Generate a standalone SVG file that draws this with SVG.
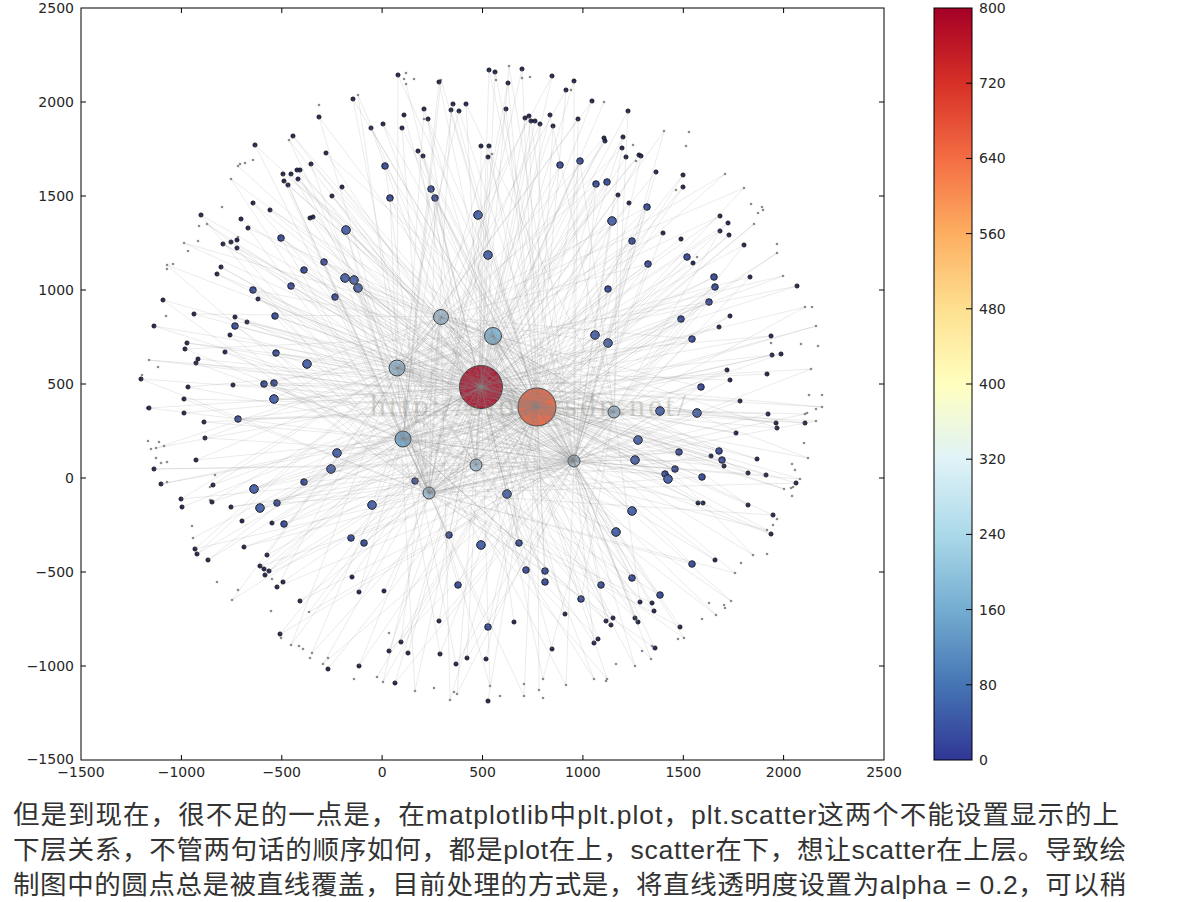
<svg xmlns="http://www.w3.org/2000/svg" xmlns:xlink="http://www.w3.org/1999/xlink" width="1181" height="902" viewBox="0 0 1181 902">
<style>
.tk{font-family:"DejaVu Sans",sans-serif;font-size:14px;fill:#262626}
.xl{text-anchor:middle}
.yl{text-anchor:end}
.cap{font-family:"Liberation Sans","Noto Sans CJK SC",sans-serif;font-size:26.5px;fill:#333}
.ed path{fill:none;stroke:#888;stroke-opacity:0.17;stroke-width:1}
.hub{stroke:#333;stroke-width:1}
.tm{stroke:#000;stroke-width:1}
</style>
<defs>
<linearGradient id="cmap" x1="0" y1="1" x2="0" y2="0">
<stop offset="0" stop-color="#313695"/><stop offset="0.1" stop-color="#4575b4"/><stop offset="0.2" stop-color="#74add1"/><stop offset="0.3" stop-color="#abd9e9"/><stop offset="0.4" stop-color="#e0f3f8"/><stop offset="0.5" stop-color="#ffffbf"/><stop offset="0.6" stop-color="#fee090"/><stop offset="0.7" stop-color="#fdae61"/><stop offset="0.8" stop-color="#f46d43"/><stop offset="0.9" stop-color="#d73027"/><stop offset="1" stop-color="#a50026"/>
</linearGradient>
<circle id="t" r="1.3" fill="#666" fill-opacity="0.75"/>
<circle id="s" r="2.1" fill="#222858" stroke="#111" stroke-width="0.8"/>
<circle id="m" r="3.3" fill="#3d4f9c" stroke="#1a1a1a" stroke-width="0.9"/>
<circle id="b" r="4.3" fill="#4a64ad" stroke="#1a1a1a" stroke-width="1"/>
</defs>
<rect width="1181" height="902" fill="#fff"/>
<text x="370" y="416" font-family="Liberation Serif,serif" font-size="32" letter-spacing="3" fill="#c9c9c0" fill-opacity="0.7">http://blog.csdn.net/</text>
<g id="nodes">
<g id="tiny">
<use href="#t" x="358" y="95"/><use href="#t" x="319" y="105"/><use href="#t" x="289" y="140"/><use href="#t" x="238" y="166"/><use href="#t" x="240" y="164"/><use href="#t" x="245" y="163"/><use href="#t" x="253" y="160"/><use href="#t" x="231" y="179"/><use href="#t" x="222" y="207"/><use href="#t" x="207" y="224"/><use href="#t" x="199" y="226"/><use href="#t" x="184" y="243"/><use href="#t" x="198" y="241"/><use href="#t" x="188" y="251"/><use href="#t" x="238" y="237"/><use href="#t" x="167" y="265"/><use href="#t" x="167" y="269"/><use href="#t" x="173" y="264"/><use href="#t" x="166" y="316"/><use href="#t" x="149" y="360"/><use href="#t" x="158" y="367"/><use href="#t" x="142" y="375"/>
<use href="#t" x="147" y="408"/><use href="#t" x="148" y="441"/><use href="#t" x="159" y="442"/><use href="#t" x="151" y="449"/><use href="#t" x="156" y="448"/><use href="#t" x="164" y="446"/><use href="#t" x="156" y="458"/><use href="#t" x="161" y="463"/><use href="#t" x="167" y="462"/><use href="#t" x="215" y="475"/><use href="#t" x="210" y="487"/><use href="#t" x="167" y="482"/><use href="#t" x="210" y="500"/><use href="#t" x="192" y="526"/><use href="#t" x="193" y="538"/><use href="#t" x="272" y="579"/><use href="#t" x="217" y="582"/><use href="#t" x="238" y="590"/><use href="#t" x="232" y="600"/><use href="#t" x="309" y="612"/><use href="#t" x="271" y="611"/><use href="#t" x="281" y="638"/><use href="#t" x="291" y="645"/><use href="#t" x="299" y="646"/><use href="#t" x="303" y="649"/><use href="#t" x="312" y="653"/><use href="#t" x="310" y="658"/><use href="#t" x="323" y="664"/><use href="#t" x="328" y="658"/><use href="#t" x="354" y="679"/><use href="#t" x="377" y="677"/>
<use href="#t" x="406" y="73"/><use href="#t" x="404" y="79"/><use href="#t" x="406" y="84"/><use href="#t" x="414" y="79"/><use href="#t" x="441" y="80"/><use href="#t" x="509" y="66"/><use href="#t" x="496" y="80"/><use href="#t" x="522" y="78"/><use href="#t" x="530" y="77"/><use href="#t" x="571" y="90"/><use href="#t" x="604" y="102"/><use href="#t" x="424" y="119"/><use href="#t" x="492" y="154"/>
<use href="#t" x="633" y="145"/><use href="#t" x="636" y="161"/><use href="#t" x="664" y="131"/><use href="#t" x="689" y="132"/><use href="#t" x="686" y="146"/><use href="#t" x="676" y="190"/><use href="#t" x="725" y="174"/><use href="#t" x="744" y="188"/><use href="#t" x="751" y="204"/><use href="#t" x="762" y="207"/><use href="#t" x="763" y="210"/><use href="#t" x="758" y="213"/><use href="#t" x="754" y="224"/><use href="#t" x="777" y="244"/><use href="#t" x="777" y="253"/><use href="#t" x="697" y="257"/><use href="#t" x="783" y="276"/><use href="#t" x="805" y="307"/><use href="#t" x="812" y="307"/><use href="#t" x="816" y="326"/><use href="#t" x="771" y="343"/><use href="#t" x="801" y="344"/><use href="#t" x="818" y="346"/><use href="#t" x="811" y="369"/>
<use href="#t" x="809" y="395"/><use href="#t" x="822" y="395"/><use href="#t" x="805" y="414"/><use href="#t" x="807" y="413"/><use href="#t" x="816" y="409"/><use href="#t" x="822" y="407"/><use href="#t" x="816" y="421"/><use href="#t" x="804" y="443"/><use href="#t" x="808" y="458"/><use href="#t" x="792" y="464"/><use href="#t" x="795" y="470"/><use href="#t" x="800" y="479"/><use href="#t" x="793" y="487"/><use href="#t" x="791" y="488"/><use href="#t" x="784" y="489"/><use href="#t" x="792" y="496"/><use href="#t" x="777" y="519"/><use href="#t" x="773" y="525"/><use href="#t" x="767" y="530"/><use href="#t" x="753" y="555"/><use href="#t" x="767" y="554"/><use href="#t" x="741" y="563"/><use href="#t" x="735" y="573"/><use href="#t" x="709" y="603"/><use href="#t" x="724" y="605"/><use href="#t" x="725" y="608"/><use href="#t" x="731" y="601"/><use href="#t" x="702" y="619"/><use href="#t" x="716" y="615"/><use href="#t" x="678" y="639"/><use href="#t" x="684" y="638"/><use href="#t" x="652" y="646"/><use href="#t" x="642" y="651"/><use href="#t" x="651" y="659"/><use href="#t" x="616" y="664"/><use href="#t" x="635" y="666"/>
<use href="#t" x="389" y="633"/><use href="#t" x="383" y="682"/><use href="#t" x="415" y="691"/><use href="#t" x="434" y="688"/><use href="#t" x="450" y="700"/><use href="#t" x="454" y="692"/><use href="#t" x="457" y="694"/><use href="#t" x="490" y="686"/><use href="#t" x="500" y="696"/><use href="#t" x="524" y="684"/><use href="#t" x="524" y="696"/><use href="#t" x="543" y="679"/><use href="#t" x="543" y="698"/><use href="#t" x="539" y="690"/><use href="#t" x="566" y="685"/><use href="#t" x="594" y="679"/><use href="#t" x="607" y="679"/><use href="#t" x="606" y="681"/>
</g>
<g id="small">
<use href="#s" x="353" y="99"/><use href="#s" x="319" y="117"/><use href="#s" x="371" y="128"/><use href="#s" x="293" y="136"/><use href="#s" x="255" y="145"/><use href="#s" x="326" y="153"/><use href="#s" x="311" y="164"/><use href="#s" x="297" y="170"/><use href="#s" x="300" y="170"/><use href="#s" x="283" y="174"/><use href="#s" x="291" y="174"/><use href="#s" x="298" y="179"/><use href="#s" x="284" y="181"/><use href="#s" x="288" y="185"/><use href="#s" x="342" y="187"/><use href="#s" x="332" y="196"/><use href="#s" x="253" y="203"/><use href="#s" x="270" y="210"/><use href="#s" x="201" y="215"/><use href="#s" x="241" y="219"/><use href="#s" x="248" y="228"/><use href="#s" x="310" y="218"/><use href="#s" x="313" y="217"/><use href="#s" x="223" y="244"/><use href="#s" x="231" y="242"/><use href="#s" x="237" y="240"/><use href="#s" x="237" y="248"/><use href="#s" x="221" y="267"/><use href="#s" x="217" y="274"/><use href="#s" x="258" y="299"/><use href="#s" x="163" y="300"/><use href="#s" x="194" y="314"/><use href="#s" x="235" y="317"/><use href="#s" x="247" y="322"/><use href="#s" x="230" y="335"/><use href="#s" x="154" y="326"/><use href="#s" x="187" y="343"/><use href="#s" x="185" y="349"/><use href="#s" x="225" y="352"/><use href="#s" x="198" y="359"/><use href="#s" x="196" y="363"/><use href="#s" x="141" y="379"/><use href="#s" x="188" y="387"/><use href="#s" x="233" y="385"/>
<use href="#s" x="184" y="399"/><use href="#s" x="149" y="408"/><use href="#s" x="184" y="413"/><use href="#s" x="204" y="422"/><use href="#s" x="205" y="438"/><use href="#s" x="154" y="469"/><use href="#s" x="196" y="460"/><use href="#s" x="213" y="485"/><use href="#s" x="161" y="484"/><use href="#s" x="181" y="499"/><use href="#s" x="182" y="507"/><use href="#s" x="212" y="502"/><use href="#s" x="231" y="507"/><use href="#s" x="242" y="521"/><use href="#s" x="272" y="523"/><use href="#s" x="195" y="549"/><use href="#s" x="197" y="554"/><use href="#s" x="208" y="560"/><use href="#s" x="244" y="547"/><use href="#s" x="267" y="555"/><use href="#s" x="260" y="566"/><use href="#s" x="264" y="569"/><use href="#s" x="269" y="571"/><use href="#s" x="265" y="575"/><use href="#s" x="283" y="582"/><use href="#s" x="277" y="587"/><use href="#s" x="352" y="577"/><use href="#s" x="359" y="592"/><use href="#s" x="300" y="601"/><use href="#s" x="280" y="634"/><use href="#s" x="328" y="669"/><use href="#s" x="359" y="666"/>
<use href="#s" x="398" y="75"/><use href="#s" x="439" y="82"/><use href="#s" x="489" y="70"/><use href="#s" x="495" y="72"/><use href="#s" x="522" y="69"/><use href="#s" x="508" y="83"/><use href="#s" x="552" y="76"/><use href="#s" x="566" y="90"/><use href="#s" x="574" y="81"/><use href="#s" x="592" y="101"/><use href="#s" x="453" y="104"/><use href="#s" x="466" y="104"/><use href="#s" x="451" y="110"/><use href="#s" x="459" y="111"/><use href="#s" x="404" y="115"/><use href="#s" x="424" y="109"/><use href="#s" x="428" y="119"/><use href="#s" x="383" y="124"/><use href="#s" x="402" y="128"/><use href="#s" x="506" y="109"/><use href="#s" x="525" y="118"/><use href="#s" x="529" y="116"/><use href="#s" x="531" y="121"/><use href="#s" x="535" y="121"/><use href="#s" x="540" y="124"/><use href="#s" x="550" y="115"/><use href="#s" x="553" y="126"/><use href="#s" x="578" y="119"/><use href="#s" x="604" y="138"/><use href="#s" x="605" y="141"/><use href="#s" x="418" y="151"/><use href="#s" x="423" y="156"/><use href="#s" x="481" y="146"/><use href="#s" x="489" y="146"/><use href="#s" x="488" y="157"/><use href="#s" x="618" y="195"/>
<use href="#s" x="628" y="111"/><use href="#s" x="623" y="137"/><use href="#s" x="622" y="148"/><use href="#s" x="626" y="157"/><use href="#s" x="639" y="155"/><use href="#s" x="641" y="156"/><use href="#s" x="656" y="172"/><use href="#s" x="683" y="175"/><use href="#s" x="683" y="187"/><use href="#s" x="629" y="203"/><use href="#s" x="720" y="216"/><use href="#s" x="728" y="223"/><use href="#s" x="720" y="231"/><use href="#s" x="729" y="235"/><use href="#s" x="663" y="233"/><use href="#s" x="681" y="239"/><use href="#s" x="744" y="245"/><use href="#s" x="693" y="263"/><use href="#s" x="750" y="277"/><use href="#s" x="797" y="286"/><use href="#s" x="730" y="316"/><use href="#s" x="719" y="327"/><use href="#s" x="771" y="336"/><use href="#s" x="772" y="355"/><use href="#s" x="781" y="354"/><use href="#s" x="727" y="370"/><use href="#s" x="730" y="380"/><use href="#s" x="767" y="374"/>
<use href="#s" x="740" y="401"/><use href="#s" x="768" y="414"/><use href="#s" x="805" y="423"/><use href="#s" x="776" y="423"/><use href="#s" x="777" y="428"/><use href="#s" x="736" y="433"/><use href="#s" x="711" y="456"/><use href="#s" x="724" y="466"/><use href="#s" x="757" y="459"/><use href="#s" x="796" y="483"/><use href="#s" x="748" y="473"/><use href="#s" x="766" y="475"/><use href="#s" x="698" y="503"/><use href="#s" x="703" y="503"/><use href="#s" x="748" y="505"/><use href="#s" x="773" y="515"/><use href="#s" x="771" y="534"/><use href="#s" x="715" y="560"/><use href="#s" x="640" y="602"/><use href="#s" x="652" y="603"/><use href="#s" x="654" y="611"/><use href="#s" x="613" y="618"/><use href="#s" x="611" y="625"/><use href="#s" x="635" y="618"/><use href="#s" x="638" y="622"/><use href="#s" x="680" y="627"/><use href="#s" x="655" y="648"/>
<use href="#s" x="384" y="591"/><use href="#s" x="565" y="614"/><use href="#s" x="606" y="621"/><use href="#s" x="439" y="621"/><use href="#s" x="514" y="622"/><use href="#s" x="401" y="642"/><use href="#s" x="389" y="651"/><use href="#s" x="408" y="653"/><use href="#s" x="440" y="654"/><use href="#s" x="467" y="658"/><use href="#s" x="486" y="659"/><use href="#s" x="456" y="664"/><use href="#s" x="552" y="649"/><use href="#s" x="598" y="639"/><use href="#s" x="594" y="643"/><use href="#s" x="395" y="683"/><use href="#s" x="488" y="701"/>
</g>
<g id="medium">
<use href="#m" x="281" y="238"/><use href="#m" x="324" y="262"/><use href="#m" x="304" y="270"/><use href="#m" x="291" y="286"/><use href="#m" x="335" y="297"/><use href="#m" x="253" y="290"/><use href="#m" x="275" y="316"/><use href="#m" x="235" y="326"/><use href="#m" x="276" y="353"/><use href="#m" x="264" y="384"/><use href="#m" x="274" y="383"/>
<use href="#m" x="238" y="419"/><use href="#m" x="304" y="482"/><use href="#m" x="277" y="503"/><use href="#m" x="284" y="524"/><use href="#m" x="351" y="538"/><use href="#m" x="364" y="543"/>
<use href="#m" x="385" y="166"/><use href="#m" x="560" y="165"/><use href="#m" x="580" y="161"/><use href="#m" x="390" y="198"/><use href="#m" x="431" y="189"/><use href="#m" x="435" y="198"/><use href="#m" x="596" y="184"/><use href="#m" x="607" y="182"/><use href="#m" x="608" y="289"/>
<use href="#m" x="647" y="207"/><use href="#m" x="632" y="241"/><use href="#m" x="687" y="257"/><use href="#m" x="648" y="264"/><use href="#m" x="714" y="277"/><use href="#m" x="715" y="287"/><use href="#m" x="709" y="302"/><use href="#m" x="681" y="319"/><use href="#m" x="692" y="339"/><use href="#m" x="701" y="387"/>
<use href="#m" x="679" y="452"/><use href="#m" x="719" y="451"/><use href="#m" x="722" y="460"/><use href="#m" x="675" y="469"/><use href="#m" x="665" y="474"/><use href="#m" x="702" y="477"/><use href="#m" x="692" y="564"/><use href="#m" x="632" y="578"/><use href="#m" x="660" y="595"/>
<use href="#m" x="415" y="481"/><use href="#m" x="449" y="535"/><use href="#m" x="519" y="543"/><use href="#m" x="526" y="570"/><use href="#m" x="545" y="571"/><use href="#m" x="545" y="582"/><use href="#m" x="601" y="585"/><use href="#m" x="581" y="599"/><use href="#m" x="458" y="585"/><use href="#m" x="488" y="627"/>
</g>
<g id="big">
<use href="#b" x="346" y="230"/><use href="#b" x="345" y="278"/><use href="#b" x="354" y="280"/><use href="#b" x="358" y="288"/><use href="#b" x="307" y="364"/>
<use href="#b" x="274" y="399"/><use href="#b" x="337" y="453"/><use href="#b" x="331" y="469"/><use href="#b" x="254" y="489"/><use href="#b" x="260" y="508"/><use href="#b" x="372" y="505"/>
<use href="#b" x="478" y="215"/><use href="#b" x="612" y="221"/><use href="#b" x="488" y="255"/><use href="#b" x="595" y="335"/><use href="#b" x="608" y="343"/>
<use href="#b" x="660" y="411"/><use href="#b" x="697" y="413"/><use href="#b" x="638" y="440"/><use href="#b" x="635" y="460"/><use href="#b" x="668" y="479"/><use href="#b" x="632" y="511"/><use href="#b" x="616" y="532"/>
<use href="#b" x="507" y="494"/><use href="#b" x="481" y="545"/>
</g>
<g id="hub-c"><circle class="hub" cx="441" cy="317" r="7.5" fill="#a9c4da"/></g>
<g id="hub-d"><circle class="hub" cx="493" cy="336" r="8.5" fill="#8dbfe0"/></g>
<g id="hub-e"><circle class="hub" cx="397" cy="368" r="8" fill="#9dc4de"/></g>
<g id="hub-f"><circle class="hub" cx="403" cy="439" r="8" fill="#7db2d9"/></g>
<g id="hub-g"><circle class="hub" cx="476" cy="465" r="6" fill="#a9c5dc"/></g>
<g id="hub-h"><circle class="hub" cx="429" cy="493" r="6" fill="#a9c5dc"/></g>
<g id="hub-i"><circle class="hub" cx="574" cy="461" r="6" fill="#aac6dc"/></g>
<g id="hub-j"><circle class="hub" cx="614" cy="412" r="6" fill="#a3c1da"/></g>
<g id="hub-a"><circle class="hub" cx="481" cy="387" r="21.5" fill="#b5112e"/></g>
<g id="hub-b"><circle class="hub" cx="537" cy="407" r="19" fill="#f26c4a"/></g>
</g>
<g id="edges" class="ed">
<path d="M481 387L358 95M481 387L289 140M481 387L300 170M481 387L238 166M481 387L253 203M481 387L241 219M481 387L281 238M481 387L231 242M481 387L304 270M481 387L291 286M481 387L217 274M481 387L275 316M481 387L235 326M481 387L187 343M481 387L198 359M481 387L233 385M481 387L274 399M481 387L184 413M481 387L156 448M481 387L331 469M481 387L213 485M481 387L182 507M481 387L277 503M481 387L242 521M481 387L197 554M481 387L351 538M481 387L264 569M481 387L352 577M481 387L193 538M481 387L291 645M481 387L406 84M481 387L552 76M481 387L592 101M481 387L404 115M481 387L525 118M481 387L535 121M481 387L604 138M481 387L481 146M481 387L560 165M481 387L390 198M481 387L478 215M481 387L607 182M481 387L488 255M481 387L608 343M481 387L604 102M481 387L626 157M481 387L629 203M481 387L720 216M481 387L681 239M481 387L693 263M481 387L714 277M481 387L797 286M481 387L719 327M481 387L771 336M481 387L767 374M481 387L725 174M481 387L783 276M481 387L776 423M481 387L660 411M481 387L638 440M481 387L719 451M481 387L722 460M481 387L675 469M481 387L702 477M481 387L698 503M481 387L632 511M481 387L715 560M481 387L660 595M481 387L613 618M481 387L822 407M481 387L784 489M481 387L716 615M481 387L415 481M481 387L507 494M481 387L519 543M481 387L545 582M481 387L601 585M481 387L384 591M481 387L514 622M481 387L408 653M481 387L552 649M481 387L415 691M481 387L490 686M481 387L594 679"/>
<path d="M537 407L353 99M537 407L311 164M537 407L284 181M537 407L201 215M537 407L346 230M537 407L324 262M537 407L354 280M537 407L167 265M537 407L163 300M537 407L230 335M537 407L276 353M537 407L141 379M537 407L274 383M537 407L238 419M537 407L337 453M537 407L254 489M537 407L260 508M537 407L284 524M537 407L364 543M537 407L283 582M537 407L328 669M537 407L377 677M537 407L522 69M537 407L451 110M537 407L402 128M537 407L553 126M537 407L385 166M537 407L580 161M537 407L435 198M537 407L612 221M537 407L595 335M537 407L623 137M537 407L683 175M537 407L729 235M537 407L687 257M537 407L715 287M537 407L681 319M537 407L727 370M537 407L754 224M537 407L768 414M537 407L697 413M537 407L635 460M537 407L796 483M537 407L668 479M537 407L773 515M537 407L692 564M537 407L652 603M537 407L680 627M537 407L735 573M537 407L805 414M537 407L481 545M537 407L545 571M537 407L458 585M537 407L488 627M537 407L486 659M537 407L488 701M537 407L539 690"/>
<path d="M441 317L371 128M441 317L342 187M441 317L184 243M441 317L358 288M441 317L194 314M441 317L307 364M441 317L274 399M441 317L304 482M441 317L372 505M441 317L267 555M441 317L232 600M441 317L566 90M441 317L529 116M441 317L489 146M441 317L596 184M441 317L608 343M441 317L647 207M441 317L648 264M441 317L692 339M441 317L744 188M441 317L777 428M441 317L719 451M441 317L748 473M441 317L632 578M441 317L808 458M441 317L415 481M441 317L545 582M441 317L401 642M441 317L450 700"/>
<path d="M493 336L283 174M493 336L248 228M493 336L345 278M493 336L253 290M493 336L185 349M493 336L264 384M493 336L196 460M493 336L212 502M493 336L208 560M493 336L359 592M493 336L439 82M493 336L424 109M493 336L605 141M493 336L431 189M493 336L488 255M493 336L639 155M493 336L632 241M493 336L709 302M493 336L701 387M493 336L679 452M493 336L665 474M493 336L632 511M493 336L611 625M493 336L684 638M493 336L519 543M493 336L565 614M493 336L598 639M493 336L607 679"/>
<path d="M397 368L297 170M397 368L207 224M397 368L304 270M397 368L221 267M397 368L154 326M397 368L188 387M397 368L205 438M397 368L181 499M397 368L195 549M397 368L277 587M397 368L398 75M397 368L459 111M397 368L578 119M397 368L390 198M397 368L612 221M397 368L622 148M397 368L663 233M397 368L750 277M397 368L730 380M397 368L638 440M397 368L675 469M397 368L771 534M397 368L654 611M397 368L731 601M397 368L481 545M397 368L458 585M397 368L456 664M397 368L566 685"/>
<path d="M403 439L255 145M403 439L231 179M403 439L346 230M403 439L237 248M403 439L335 297M403 439L235 326M403 439L196 363M403 439L204 422M403 439L161 484M403 439L272 523M403 439L269 571M403 439L312 653M403 439L453 104M403 439L540 124M403 439L560 165M403 439L607 182M403 439L441 80M403 439L728 223M403 439L714 277M403 439L772 355M403 439L816 326M403 439L697 413M403 439L724 466M403 439L703 503M403 439L660 595M403 439L767 530M403 439L449 535M403 439L581 599M403 439L440 654M403 439L524 696"/>
<path d="M476 465L291 174M476 465L310 218M476 465L345 278M476 465L253 290M476 465L225 352M476 465L264 384M476 465L154 469M476 465L231 507M476 465L244 547M476 465L300 601M476 465L489 70M476 465L428 119M476 465L418 151M476 465L431 189M476 465L608 289M476 465L641 156M476 465L632 241M476 465L709 302M476 465L701 387M476 465L679 452M476 465L665 474M476 465L616 532M476 465L635 618M476 465L651 659M476 465L526 570M476 465L606 621M476 465L594 643"/>
<path d="M429 493L319 117M429 493L288 185M429 493L281 238M429 493L358 288M429 493L275 316M429 493L307 364M429 493L184 399M429 493L331 469M429 493L277 503M429 493L364 543M429 493L359 666M429 493L508 83M429 493L506 109M429 493L385 166M429 493L478 215M429 493L595 335M429 493L683 187M429 493L687 257M429 493L730 316M429 493L777 253M429 493L711 456M429 493L702 477M429 493L692 564M429 493L655 648M429 493L816 421M429 493L545 571M429 493L488 627M429 493L383 682"/>
<path d="M574 461L293 136M574 461L298 179M574 461L332 196M574 461L313 217M574 461L223 244M574 461L354 280M574 461L291 286M574 461L258 299M574 461L235 317M574 461L276 353M574 461L274 383M574 461L149 408M574 461L337 453M574 461L304 482M574 461L260 508M574 461L372 505M574 461L351 538M574 461L260 566M574 461L280 634M574 461L309 612M574 461L495 72M574 461L574 81M574 461L383 124M574 461L531 121M574 461L423 156M574 461L488 157M574 461L435 198M574 461L596 184M574 461L608 289M574 461L509 66M574 461L656 172M574 461L647 207M574 461L744 245M574 461L648 264M574 461L681 319M574 461L692 339M574 461L664 131M574 461L811 369M574 461L740 401M574 461L660 411M574 461L635 460M574 461L722 460M574 461L668 479M574 461L766 475M574 461L616 532M574 461L632 578M574 461L638 622M574 461L800 479M574 461L635 666M574 461L507 494M574 461L526 570M574 461L601 585M574 461L439 621M574 461L389 651M574 461L395 683M574 461L457 694"/>
<path d="M614 412L326 153M614 412L270 210M614 412L324 262M614 412L335 297M614 412L247 322M614 412L149 360M614 412L238 419M614 412L254 489M614 412L284 524M614 412L265 575M614 412L323 664M614 412L466 104M614 412L550 115M614 412L580 161M614 412L618 195M614 412L628 111M614 412L720 231M614 412L715 287M614 412L781 354M614 412L805 307M614 412L805 423M614 412L736 433M614 412L757 459M614 412L748 505M614 412L640 602M614 412L753 555M614 412L449 535M614 412L581 599M614 412L467 658M614 412L543 679"/>
<path d="M481 387L293 136M481 387L298 179M481 387L332 196M481 387L313 217M481 387L223 244M481 387L354 280M481 387L258 299M481 387L235 317M481 387L276 353M481 387L274 383M481 387L149 408M481 387L337 453M481 387L304 482M481 387L260 508M481 387L372 505M481 387L260 566M481 387L280 634M481 387L309 612M481 387L495 72M481 387L574 81M481 387L383 124M481 387L531 121M481 387L423 156M481 387L488 157M481 387L435 198M481 387L596 184M481 387L608 289M481 387L509 66M481 387L656 172M481 387L647 207M481 387L744 245M481 387L648 264M481 387L681 319M481 387L692 339M481 387L664 131M481 387L811 369M481 387L740 401M481 387L635 460M481 387L668 479M481 387L766 475M481 387L616 532M481 387L632 578M481 387L638 622M481 387L800 479M481 387L635 666M481 387L526 570M481 387L439 621M481 387L389 651M481 387L395 683M481 387L457 694M481 387L326 153M481 387L270 210M481 387L324 262M481 387L335 297M481 387L247 322M481 387L149 360M481 387L238 419M481 387L254 489M481 387L284 524M481 387L265 575M481 387L323 664M481 387L466 104M481 387L550 115M481 387L580 161M481 387L618 195M481 387L628 111M481 387L720 231M481 387L715 287M481 387L781 354M481 387L805 307M481 387L805 423M481 387L736 433M481 387L757 459M481 387L748 505M481 387L640 602M481 387L753 555M481 387L449 535M481 387L581 599M481 387L467 658M481 387L543 679"/>
<path d="M537 407L371 128M537 407L342 187M537 407L184 243M537 407L358 288M537 407L194 314M537 407L307 364M537 407L274 399M537 407L304 482M537 407L372 505M537 407L267 555M537 407L232 600M537 407L566 90M537 407L529 116M537 407L489 146M537 407L596 184M537 407L608 343M537 407L647 207M537 407L648 264M537 407L692 339M537 407L744 188M537 407L777 428M537 407L719 451M537 407L748 473M537 407L632 578M537 407L808 458M537 407L415 481M537 407L545 582M537 407L401 642M537 407L450 700M537 407L319 117M537 407L288 185M537 407L281 238M537 407L275 316M537 407L184 399M537 407L331 469M537 407L277 503M537 407L359 666M537 407L508 83M537 407L506 109M537 407L478 215M537 407L683 187M537 407L730 316M537 407L777 253M537 407L711 456M537 407L702 477M537 407L655 648M537 407L816 421M537 407L383 682M537 407L255 145M537 407L231 179M537 407L237 248M537 407L335 297M537 407L196 363M537 407L204 422M537 407L161 484M537 407L272 523M537 407L269 571M537 407L312 653M537 407L453 104M537 407L540 124M537 407L441 80M537 407L728 223M537 407L772 355M537 407L816 326M537 407L724 466M537 407L703 503M537 407L767 530M537 407L440 654M537 407L524 696"/>
<path d="M574 461L297 170M574 461L207 224M574 461L304 270M574 461L221 267M574 461L154 326M574 461L188 387M574 461L205 438M574 461L181 499M574 461L195 549M574 461L277 587M574 461L398 75M574 461L459 111M574 461L578 119M574 461L390 198M574 461L612 221M574 461L622 148M574 461L663 233M574 461L750 277M574 461L730 380M574 461L638 440M574 461L675 469M574 461L771 534M574 461L654 611M574 461L731 601M574 461L481 545M574 461L458 585M574 461L456 664M574 461L566 685M574 461L291 174M574 461L310 218M574 461L345 278M574 461L253 290M574 461L225 352M574 461L264 384M574 461L154 469M574 461L231 507M574 461L244 547M574 461L300 601M574 461L489 70M574 461L428 119M574 461L418 151M574 461L431 189M574 461L641 156M574 461L632 241M574 461L709 302M574 461L701 387M574 461L679 452M574 461L665 474M574 461L635 618M574 461L651 659M574 461L606 621M574 461L594 643"/>
<path d="M403 439L283 174M403 439L248 228M403 439L345 278M403 439L253 290M403 439L185 349M403 439L264 384M403 439L196 460M403 439L212 502M403 439L208 560M403 439L359 592M403 439L439 82M403 439L424 109M403 439L605 141M403 439L431 189M403 439L488 255M403 439L639 155M403 439L632 241M403 439L709 302M403 439L701 387M403 439L679 452M403 439L665 474M403 439L632 511M403 439L611 625M403 439L684 638M403 439L519 543M403 439L565 614M403 439L598 639M403 439L607 679"/>
<path d="M429 493L353 99M429 493L311 164M429 493L284 181M429 493L201 215M429 493L346 230M429 493L324 262M429 493L354 280M429 493L167 265M429 493L163 300M429 493L230 335M429 493L276 353M429 493L141 379M429 493L274 383M429 493L522 69M429 493L451 110M429 493L402 128M429 493L553 126M429 493L580 161M429 493L435 198M429 493L623 137M429 493L683 175M429 493L729 235M429 493L715 287M429 493L681 319M429 493L727 370M429 493L754 224M429 493L768 414M429 493L697 413M429 493L796 483M429 493L773 515M429 493L652 603M429 493L680 627M429 493L735 573M429 493L805 414"/>
<path d="M397 368L358 95M397 368L289 140M397 368L253 203M397 368L217 274M397 368L187 343M397 368L156 448M397 368L213 485M397 368L197 554M397 368L291 645M397 368L552 76M397 368L592 101M397 368L604 138M397 368L720 216M397 368L797 286M397 368L771 336M397 368L725 174M397 368L783 276M397 368L776 423M397 368L822 407M397 368L784 489M397 368L715 560M397 368L716 615M397 368L594 679M397 368L490 686M397 368L415 691"/>
<path d="M481 387L537 407M481 387L441 317M481 387L493 336M481 387L397 368M481 387L403 439M481 387L476 465M481 387L429 493M481 387L574 461M481 387L614 412M537 407L441 317M537 407L493 336M537 407L397 368M537 407L403 439M537 407L476 465M537 407L429 493M537 407L574 461M537 407L614 412M441 317L493 336M441 317L397 368M441 317L403 439M441 317L429 493M441 317L574 461M441 317L614 412M493 336L397 368M493 336L476 465M493 336L574 461M493 336L614 412M397 368L403 439M397 368L429 493M397 368L574 461M397 368L614 412M403 439L476 465M403 439L429 493M403 439L574 461M403 439L614 412M476 465L429 493M476 465L574 461M476 465L614 412M429 493L574 461M429 493L614 412M574 461L614 412"/>
</g>
<g id="axes">
<rect x="81" y="8" width="803" height="752" fill="none" stroke="#000" stroke-width="1"/>
<path class="tm" d="M181.4 760v-5M281.8 760v-5M382.1 760v-5M482.5 760v-5M582.9 760v-5M683.3 760v-5M783.6 760v-5M181.4 8v5M281.8 8v5M382.1 8v5M482.5 8v5M582.9 8v5M683.3 8v5M783.6 8v5M81 102h5M81 196h5M81 290h5M81 384h5M81 478h5M81 572h5M81 666h5M884 102h-5M884 196h-5M884 290h-5M884 384h-5M884 478h-5M884 572h-5M884 666h-5"/>
<text class="tk xl" x="81" y="777">−1500</text>
<text class="tk xl" x="181.4" y="777">−1000</text>
<text class="tk xl" x="281.8" y="777">−500</text>
<text class="tk xl" x="382.1" y="777">0</text>
<text class="tk xl" x="482.5" y="777">500</text>
<text class="tk xl" x="582.9" y="777">1000</text>
<text class="tk xl" x="683.3" y="777">1500</text>
<text class="tk xl" x="783.6" y="777">2000</text>
<text class="tk xl" x="884" y="777">2500</text>
<text class="tk yl" x="74" y="13">2500</text>
<text class="tk yl" x="74" y="107">2000</text>
<text class="tk yl" x="74" y="201">1500</text>
<text class="tk yl" x="74" y="295">1000</text>
<text class="tk yl" x="74" y="389">500</text>
<text class="tk yl" x="74" y="483">0</text>
<text class="tk yl" x="74" y="577">−500</text>
<text class="tk yl" x="74" y="671">−1000</text>
<text class="tk yl" x="74" y="764">−1500</text>
</g>
<g id="colorbar">
<rect x="934" y="8" width="38" height="752" fill="url(#cmap)" stroke="#000" stroke-width="1"/>
<path class="tm" d="M966 684.8h6M966 609.6h6M966 534.4h6M966 459.2h6M966 384h6M966 308.8h6M966 233.6h6M966 158.4h6M966 83.2h6"/>
<text class="tk" x="979" y="13">800</text>
<text class="tk" x="979" y="88">720</text>
<text class="tk" x="979" y="163">640</text>
<text class="tk" x="979" y="239">560</text>
<text class="tk" x="979" y="314">480</text>
<text class="tk" x="979" y="389">400</text>
<text class="tk" x="979" y="464">320</text>
<text class="tk" x="979" y="539">240</text>
<text class="tk" x="979" y="615">160</text>
<text class="tk" x="979" y="690">80</text>
<text class="tk" x="979" y="765">0</text>
</g>
<g id="caption">
<text class="cap" x="13" y="824" textLength="1106">但是到现在，很不足的一点是，在matplotlib中plt.plot，plt.scatter这两个不能设置显示的上</text>
<text class="cap" x="13" y="859" textLength="1113">下层关系，不管两句话的顺序如何，都是plot在上，scatter在下，想让scatter在上层。导致绘</text>
<text class="cap" x="13" y="894" textLength="1113">制图中的圆点总是被直线覆盖，目前处理的方式是，将直线透明度设置为alpha = 0.2，可以稍</text>
</g>
</svg>
